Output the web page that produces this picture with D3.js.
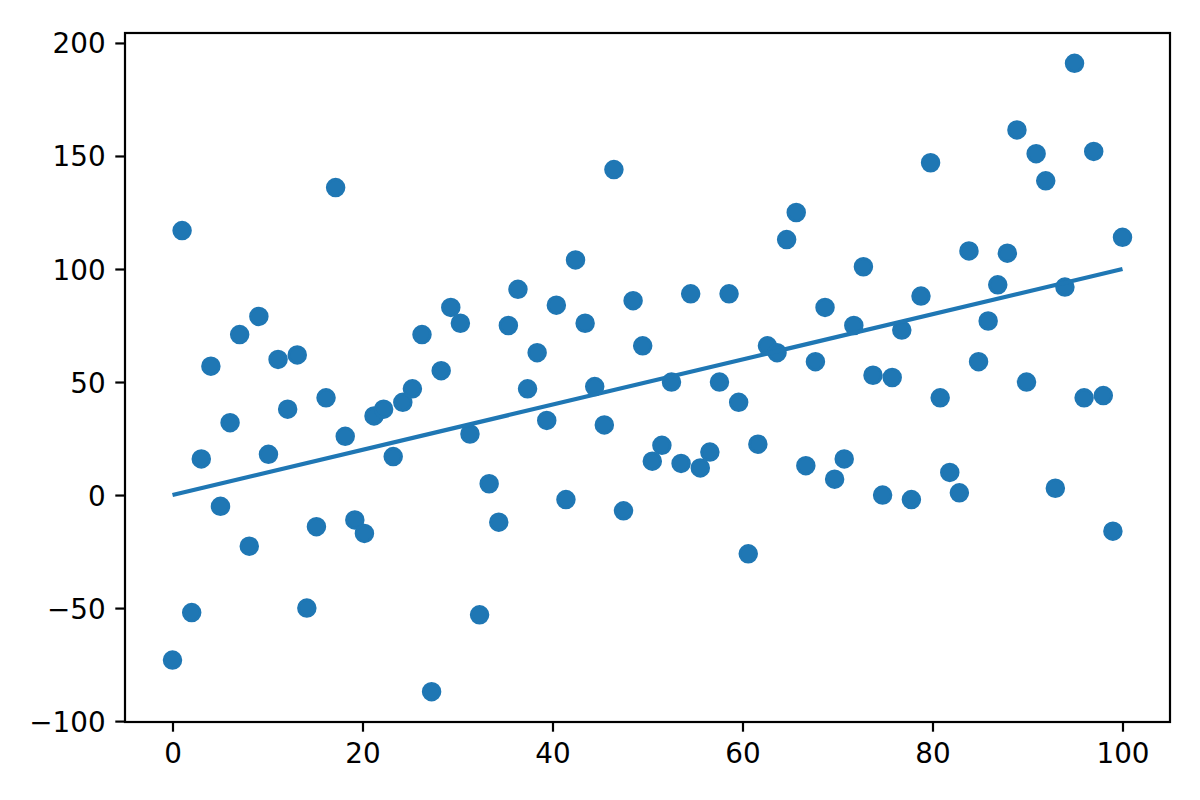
<!DOCTYPE html>
<html>
<head>
<meta charset="utf-8">
<script src="https://cdn.jsdelivr.net/npm/d3@7"></script>
<style>
  html, body { margin: 0; padding: 0; background: #fff; }
  svg { display: block; }
  .tick text { font-family: "DejaVu Sans", sans-serif; font-size: 27.8px; fill: #000; }
</style>
</head>
<body>
<svg id="chart" width="1200" height="800"></svg>
<script>
// Data (x = linspace(0, 100, 100))
const pointCount = 100;
const yValues = [
  -73, 117, -52, 16, 57, -5, 32, 71, -22.6, 79,
  18, 60, 38, 62, -50, -14, 43, 136, 26, -11,
  -17, 35, 38, 17, 41, 47, 71, -87, 55, 83,
  76, 27, -53, 5, -12, 75, 91, 47, 63, 33,
  84, -2, 104, 76, 48, 31, 144, -7, 86, 66,
  15, 22, 50, 14, 89, 12, 19, 50, 89, 41,
  -26, 22.5, 66, 63, 113, 125, 13, 59, 83, 7,
  16, 75, 101, 53, 0, 52, 73, -2, 88, 147,
  43, 10, 1, 108, 59, 77, 93, 107, 161.5, 50,
  151, 139, 3, 92, 191, 43, 152, 44, -16, 114
];
const xValues = d3.range(pointCount).map(i => i * 100 / (pointCount - 1));
const lineX = [0, 100];
const lineY = [0, 100];
const xTicks = [0, 20, 40, 60, 80, 100];
const yTicks = [-100, -50, 0, 50, 100, 150, 200];

const plotLeft = 125, plotRight = 1170, plotTop = 33, plotBottom = 722;
const color = "#1f77b4";

const svg = d3.select("#chart");
const x = d3.scaleLinear().domain([-5, 105]).range([plotLeft, plotRight]);
const y = d3.scaleLinear().domain([-100.4, 204.4]).range([plotBottom, plotTop]);

const fmt = d => (d < 0 ? "\u2212" + Math.abs(d) : String(d));

// scatter
svg.append("g").selectAll("circle")
  .data(yValues)
  .join("circle")
  .attr("cx", (d, i) => x(xValues[i]))
  .attr("cy", d => y(d))
  .attr("r", 8.35)
  .attr("fill", color)
  .attr("stroke", color)
  .attr("stroke-width", 2.8);

// line
svg.append("path")
  .datum(lineX.map((v, i) => [v, lineY[i]]))
  .attr("fill", "none")
  .attr("stroke", color)
  .attr("stroke-width", 4.2)
  .attr("d", d3.line().x(d => x(d[0])).y(d => y(d[1])));

// frame
svg.append("rect")
  .attr("x", plotLeft).attr("y", plotTop)
  .attr("width", plotRight - plotLeft).attr("height", plotBottom - plotTop)
  .attr("fill", "none").attr("stroke", "#000").attr("stroke-width", 2.2);

// axes
const xAxis = d3.axisBottom(x).tickValues(xTicks).tickFormat(fmt).tickSize(9.7).tickPadding(9.7);
const gx = svg.append("g").attr("transform", `translate(0,${plotBottom})`).call(xAxis);
gx.select(".domain").remove();
gx.selectAll(".tick line").attr("stroke", "#000").attr("stroke-width", 2.2);
gx.selectAll(".tick text").attr("dy", "0.76em");

const yAxis = d3.axisLeft(y).tickValues(yTicks).tickFormat(fmt).tickSize(9.7).tickPadding(9.7);
const gy = svg.append("g").attr("transform", `translate(${plotLeft},0)`).call(yAxis);
gy.select(".domain").remove();
gy.selectAll(".tick line").attr("stroke", "#000").attr("stroke-width", 2.2);
gy.selectAll(".tick text").attr("dy", "0.36em");
</script>
</body>
</html>
